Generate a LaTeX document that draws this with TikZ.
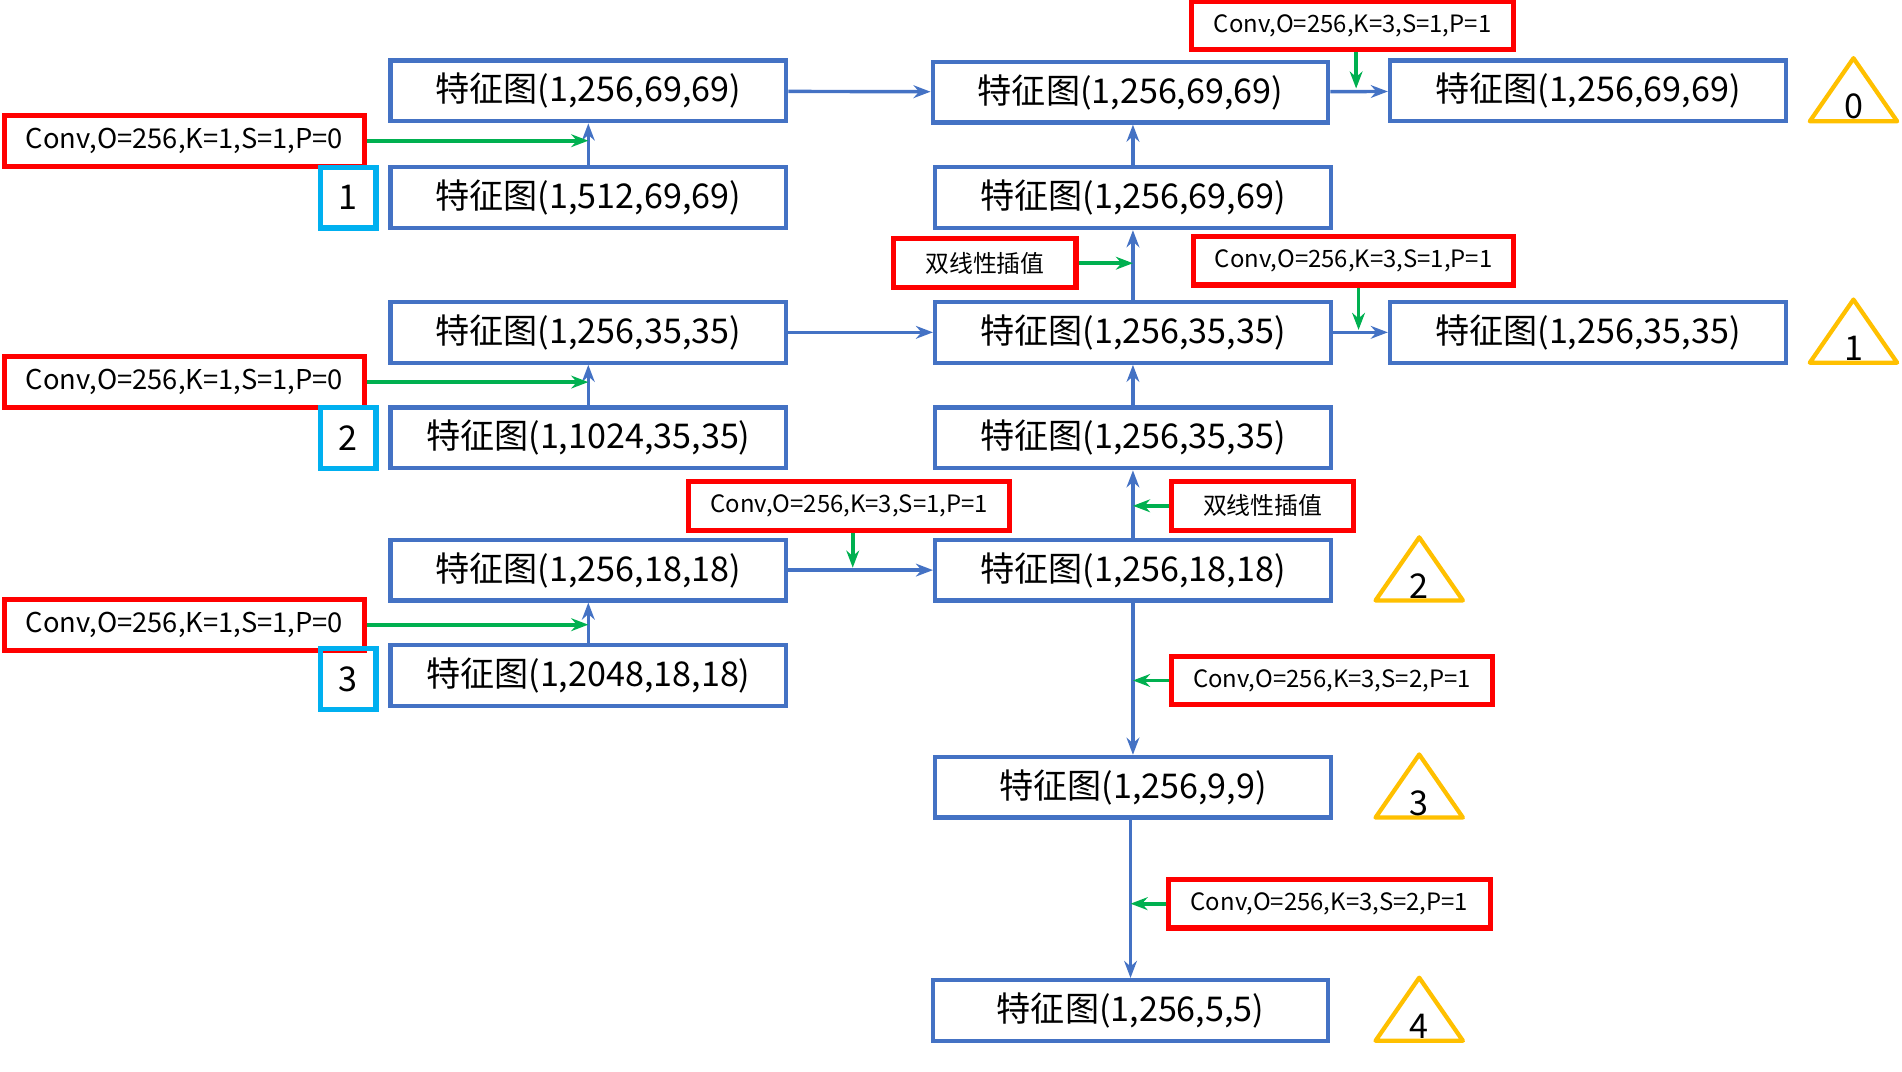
\documentclass[tikz,border=0pt]{standalone}
\usepackage{fontspec}
\setmainfont{Noto Sans CJK SC}
\usetikzlibrary{arrows.meta,positioning,calc}
\definecolor{fblue}{HTML}{4472C4}
\definecolor{fgreen}{HTML}{00B050}
\definecolor{fcyan}{HTML}{00B0F0}
\definecolor{fgold}{HTML}{FFC000}

\begin{document}
\begin{tikzpicture}[
    x=0.01cm, y=-0.01cm,
    fmap/.style = {rectangle, draw=fblue, line width=1pt, minimum width=3.26cm, minimum height=0.5cm, inner sep=0pt, font=\fontsize{8}{8}\selectfont},
    conv/.style = {rectangle, draw=red, line width=1.2pt, minimum height=0.4cm, inner sep=2pt, font=\fontsize{5.6}{6}\selectfont},
    convl/.style = {conv, minimum width=2.97cm, minimum height=0.42cm, font=\fontsize{6.4}{7}\selectfont},
    idx/.style = {rectangle, draw=fcyan, line width=1.2pt, minimum width=0.46cm, minimum height=0.5cm, inner sep=0pt, font=\fontsize{8}{8}\selectfont},
    lvl/.style = {draw=fgold, line width=1pt, line join=round},
    flow/.style = {->, >={Stealth[length=4pt,width=3pt]}, draw=fblue, line width=0.8pt},
    side/.style = {->, >={Stealth[length=4pt,width=3pt]}, draw=fgreen, line width=0.9pt}
]
    \useasboundingbox (0,0) rectangle (1568,883);
    % left column
    \node[fmap] (l0a) at (485,75) {特征图(1,256,69,69)};
    \node[fmap] (l0b) at (485,163) {特征图(1,512,69,69)};
    \node[fmap] (l1a) at (485,274) {特征图(1,256,35,35)};
    \node[fmap] (l1b) at (485,361) {特征图(1,1024,35,35)};
    \node[fmap] (l2a) at (485,470) {特征图(1,256,18,18)};
    \node[fmap] (l2b) at (485,557) {特征图(1,2048,18,18)};
    \node[convl] (c1) at (152,116) {Conv,O=256,K=1,S=1,P=0};
    \node[convl] (c2) at (152,315) {Conv,O=256,K=1,S=1,P=0};
    \node[convl] (c3) at (152,515) {Conv,O=256,K=1,S=1,P=0};
    \node[idx] (i1) at (287,163) {1};
    \node[idx] (i2) at (287,361) {2};
    \node[idx] (i3) at (287,560) {3};
    % middle column
    \node[fmap] (m0) at (932,76) {特征图(1,256,69,69)};
    \node[fmap] (m0b) at (934,163) {特征图(1,256,69,69)};
    \node[fmap] (m1) at (934,274) {特征图(1,256,35,35)};
    \node[fmap] (m1b) at (934,361) {特征图(1,256,35,35)};
    \node[fmap] (m2) at (934,470) {特征图(1,256,18,18)};
    \node[fmap] (m3) at (934,649) {特征图(1,256,9,9)};
    \node[fmap] (m4) at (932,833) {特征图(1,256,5,5)};
    % right column
    \node[fmap] (r0) at (1309,75) {特征图(1,256,69,69)};
    \node[fmap] (r1) at (1309,274) {特征图(1,256,35,35)};
    % operations
    \node[conv, minimum width=2.65cm] (k0) at (1115,21) {Conv,O=256,K=3,S=1,P=1};
    \node[conv, minimum width=2.64cm] (k1) at (1116,215) {Conv,O=256,K=3,S=1,P=1};
    \node[conv, minimum width=2.64cm] (k2) at (700,417) {Conv,O=256,K=3,S=1,P=1};
    \node[conv, minimum width=2.64cm] (k3) at (1098,561) {Conv,O=256,K=3,S=2,P=1};
    \node[conv, minimum width=2.65cm] (k4) at (1096,745) {Conv,O=256,K=3,S=2,P=1};
    \node[conv, minimum width=1.5cm] (u0) at (812,217) {双线性插值};
    \node[conv, minimum width=1.5cm] (u1) at (1041,417) {双线性插值};
    % levels
    \foreach \n/\x/\y in {t0/1528/75, t1/1528/274, t2/1170/470, t3/1170/649, t4/1170/833} {
        \draw[lvl] (\x-36,\y+25) -- (\x,\y-27) -- (\x+36,\y+25) -- cycle;
    }
    \node[font=\fontsize{8}{8}\selectfont] (n0) at (1528,88) {0};
    \node[font=\fontsize{8}{8}\selectfont] (n1) at (1528,287) {1};
    \node[font=\fontsize{8}{8}\selectfont] (n2) at (1170,483) {2};
    \node[font=\fontsize{8}{8}\selectfont] (n3) at (1170,662) {3};
    \node[font=\fontsize{8}{8}\selectfont] (n4) at (1170,846) {4};
    % blue flow
    \draw[flow] (l0b) -- (l0a);
    \draw[flow] (l1b) -- (l1a);
    \draw[flow] (l2b) -- (l2a);
    \draw[flow] (l0a) -- (m0);
    \draw[flow] (l1a) -- (m1);
    \draw[flow] (l2a) -- (m2);
    \draw[flow] (m0b) -- (m0.south -| m0b);
    \draw[flow] (m1) -- (m0b);
    \draw[flow] (m1b) -- (m1);
    \draw[flow] (m2) -- (m1b);
    \draw[flow] (m2) -- (m3);
    \draw[flow] (m3.south -| m4) -- (m4);
    \draw[flow] (m0) -- (r0);
    \draw[flow] (m1) -- (r1);
    % green side inputs
    \draw[side] (c1) -- (c1 -| l0a);
    \draw[side] (c2) -- (c2 -| l1a);
    \draw[side] (c3) -- (c3 -| l2a);
    \draw[side] (k0.south -| 1118,0) -- (1118,73);
    \draw[side] (k1.south -| 1120,0) -- (1120,272);
    \draw[side] (k2.south -| 703,0) -- (703,468);
    \draw[side] (u0) -- (u0 -| m1);
    \draw[side] (u1) -- (u1 -| m2);
    \draw[side] (k3) -- (k3 -| m2);
    \draw[side] (k4) -- (k4 -| m4);
\end{tikzpicture}
\end{document}
